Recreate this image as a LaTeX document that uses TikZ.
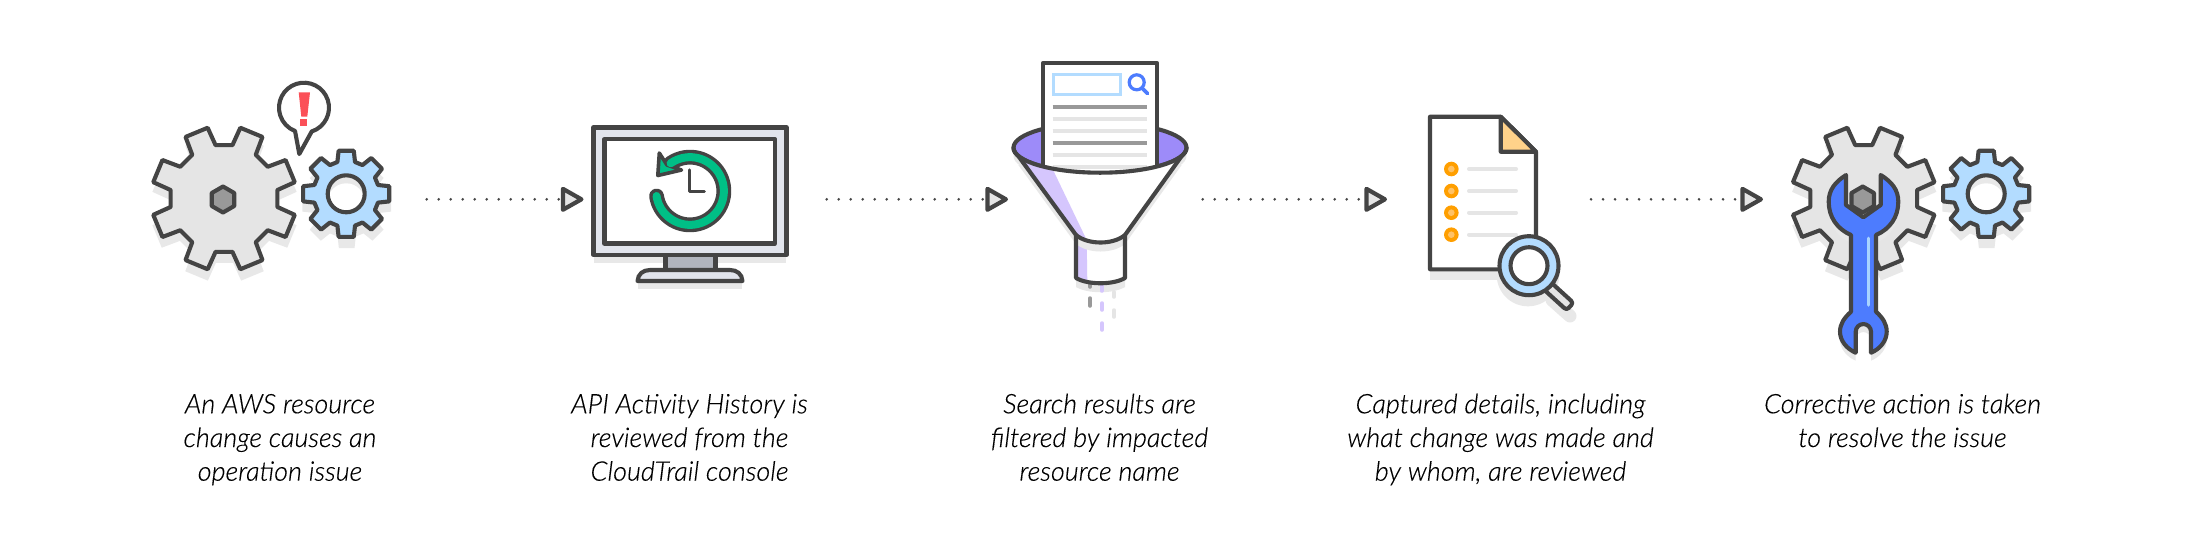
\documentclass[tikz,border=0pt]{standalone}
\usepackage{fontspec}
\usetikzlibrary{arrows.meta}
\setmainfont{Lato}[ItalicFont={Lato Light Italic},ItalicFeatures={FakeBold=0.25}]
\definecolor{ink}{HTML}{444444}
\definecolor{softsh}{HTML}{E8E8E8}
\definecolor{gearg}{HTML}{E5E5E5}
\definecolor{hexg}{HTML}{999999}
\definecolor{skyb}{HTML}{B3DCFF}
\definecolor{wrenchb}{HTML}{4D7CFE}
\definecolor{redx}{HTML}{FB5058}
\definecolor{greenh}{HTML}{00BF86}
\definecolor{scrn}{HTML}{E1E4EC}
\definecolor{standg}{HTML}{B1B5BE}
\definecolor{purp}{HTML}{9D8BF9}
\definecolor{lpurp}{HTML}{D5C6FD}
\definecolor{foldo}{HTML}{FFD28A}
\definecolor{oran}{HTML}{FF9F00}
\definecolor{loran}{HTML}{FFC266}
\definecolor{hilite}{HTML}{A8D4FF}
\tikzset{
 inkline/.style={draw=ink,line width=4.1pt,line join=round,line cap=round},
 flow/.style={draw=ink,line width=2.9pt,line cap=round,dash pattern=on 0pt off 12pt,
   -{Triangle[length=25pt,width=27pt,line width=4.2pt,fill=gearg,round]}},
 caption/.style={align=center,font=\itshape\fontsize{27}{33.7}\selectfont,text=black,inner sep=0pt,anchor=north},
}
% \gearpath{cx}{cy}{teeth}{offset}{R}{r}{tip half angle}{base half angle}
\newcommand{\gearpath}[8]{
 ([shift={(#1,#2)}]{#4-#8}:#6)
 foreach \ii in {0,...,\numexpr#3-1\relax}{
  -- ([shift={(#1,#2)}]{#4+\ii*360/#3-#8}:#6)
  -- ([shift={(#1,#2)}]{#4+\ii*360/#3-#7}:#5)
  -- ([shift={(#1,#2)}]{#4+\ii*360/#3+#7}:#5)
  -- ([shift={(#1,#2)}]{#4+\ii*360/#3+#8}:#6)
 } -- cycle
}
\newcommand{\biggear}[2]{
 \fill[softsh] \gearpath{#1+0.5}{#2+10}{8}{22.5}{74}{55}{9.5}{13.5};
 \path[inkline,fill=gearg] \gearpath{#1}{#2}{8}{22.5}{72.6}{54}{9.5}{13.5};
 \path[inkline,fill=hexg] ([shift={(#1-1,#2+1)}]30:13) -- ([shift={(#1-1,#2+1)}]90:13) -- ([shift={(#1-1,#2+1)}]150:13) -- ([shift={(#1-1,#2+1)}]210:13) -- ([shift={(#1-1,#2+1)}]270:13) -- ([shift={(#1-1,#2+1)}]330:13) -- cycle;
}
\newcommand{\smallgear}[2]{
 \fill[softsh] \gearpath{#1+0.5}{#2+10}{8}{0}{45}{34}{10}{15.5};
 \path[inkline,fill=skyb] \gearpath{#1}{#2}{8}{0}{43.7}{33}{10}{15.5};
 \begin{scope}
  \clip (#1,#2) circle (18.5);
  \fill[softsh] (#1,#2) circle (18.5);
  \fill[white] (#1,#2+8) circle (18.5);
 \end{scope}
 \draw[inkline] (#1,#2) circle (18.5);
}
\newcommand{\wrenchpath}{
 (1846,175) -- (1846,205) -- (1863.3,217.3) -- (1880.7,205) -- (1880.7,175)
 .. controls (1892,182) and (1898.3,190) .. (1898.3,201.7)
 .. controls (1898.3,217) and (1890,229) .. (1876,235)
 -- (1876,311.7)
 .. controls (1883,318) and (1886.7,324) .. (1886.7,331.7)
 .. controls (1886.7,341) and (1880,349) .. (1871,352.7)
 -- (1871,331.7) arc[start angle=0,end angle=-180,radius=7.65] -- (1855.7,352.7)
 .. controls (1847,349) and (1840,341) .. (1840,331.7)
 .. controls (1840,324) and (1844,318) .. (1851,311.7)
 -- (1851,235)
 .. controls (1837,229) and (1828.7,217) .. (1828.7,201.7)
 .. controls (1828.7,190) and (1835,182) .. (1846,175) -- cycle
}
\newcommand{\conepath}{
 (1018.3,156) -- (1076,235) -- (1076,278) .. controls (1088,285) and (1113,285) .. (1125,278) -- (1125,235) -- (1181.7,156)
}
\begin{document}
\begin{tikzpicture}[x=1pt,y=1pt,yscale=-1]
\useasboundingbox (0,0) rectangle (2200,550);
\fill[white] (0,0) rectangle (2200,550);

% ---- icon 1: gears and alert
\biggear{224}{198.5}
\smallgear{346.2}{193.8}
\path[inkline,fill=white] ([shift={(304,107.7)}]72:25) arc[start angle=72,end angle=-249,radius=25] -- (299.3,154) -- cycle;
\fill[redx] (298.7,92.3) -- (310,92.3) -- (307.3,116.7) -- (301.3,116.7) -- cycle;
\fill[redx] (300,119.3) rectangle (307.3,125.7);

% ---- icon 2: monitor
\fill[softsh] (594,255) rectangle (786,263);
\fill[softsh] (638,281) rectangle (742,289);
\path[inkline,fill=scrn] (593.5,127.5) rectangle (786.5,255);
\path[inkline,fill=white] (604.5,139) rectangle (775,243.5);
\path[inkline,fill=standg] (665.5,255) rectangle (715.5,270);
\path[inkline,fill=scrn] (637.5,281) .. controls (638,274) and (643,270) .. (650,270) -- (730,270) .. controls (737,270) and (742,274) .. (742.5,281) -- cycle;
\draw[ink,line width=14.8pt,line cap=round] ([shift={(690,191)}]171.5:33.85) arc[start angle=171.5,end angle=-125,radius=33.85];
\path[inkline,fill=greenh,line width=3.6pt] (659.3,153) -- (657.8,175.5) -- (681.5,170) -- (667,165) -- cycle;
\draw[greenh,line width=8pt,line cap=round] ([shift={(690,191)}]171.5:33.85) arc[start angle=171.5,end angle=-125,radius=33.85];
\draw[inkline,line width=3.3pt] (689.3,170) -- (689.3,191.7) -- (704.3,191.7);

% ---- icon 3: funnel
\fill[softsh] (1100,156) ellipse[x radius=86.5,y radius=25];
\fill[softsh,shift={(0,9)}] \conepath -- cycle;
\path[inkline,fill=purp] (1100,147.7) ellipse[x radius=86.5,y radius=25];
\path[inkline,fill=white] (1042.7,176) -- (1042.7,63.3) -- (1157.3,63.3) -- (1157.3,176);
\draw[skyb,line width=3pt] (1053.5,74) rectangle (1120,94);
\draw[wrenchb,line width=3.2pt] (1136.7,82.3) circle (7.5);
\draw[wrenchb,line width=3.6pt,line cap=round] (1142,88) -- (1147.5,93.5);
\draw[hexg,line width=4pt] (1052.5,107) -- (1146.5,107) (1052.5,143) -- (1146.5,143);
\draw[gearg,line width=4pt] (1052.5,119) -- (1146.5,119) (1052.5,131) -- (1146.5,131) (1052.5,155) -- (1146.5,155) (1052.5,167) -- (1146.5,167);
\draw[hexg,line width=3.5pt,line cap=round] (1090,283) -- (1090,287) (1090,298) -- (1090,306);
\draw[lpurp,line width=3.5pt,line cap=round] (1102,285) -- (1102,291) (1102,303) -- (1102,310) (1102,323) -- (1102,330);
\draw[gearg,line width=3.5pt,line cap=round] (1114,292) -- (1114,297) (1114,310) -- (1114,317);
\fill[white] \conepath -- (1180.7,156.6) arc[start angle=21,end angle=159,x radius=86.5,y radius=25] -- cycle;
\fill[lpurp] (1021.7,160) -- (1053.3,170.5) -- (1086.7,240) -- (1087.3,281) -- (1076,278) -- (1076,235) -- cycle;
\fill[softsh] (1076,235) .. controls (1088,245) and (1113,245) .. (1125,235) -- (1125,244) .. controls (1113,254) and (1088,254) .. (1076,244) -- cycle;
\draw[inkline] \conepath;
\draw[inkline] (1076,235) .. controls (1088,245) and (1113,245) .. (1125,235);
\draw[inkline] (1186.5,147.7) arc[start angle=0,end angle=180,x radius=86.5,y radius=25];

% ---- icon 4: document
\fill[softsh] (1430,270) rectangle (1510,279.5);
\fill[softsh] (1528,275) circle (31.3);
\draw[softsh,line width=13pt,line cap=round] (1552,300) -- (1570,316);
\path[inkline,fill=white] (1430,116.7) -- (1500.7,116.7) -- (1536,151.7) -- (1536,269.3) -- (1430,269.3) -- cycle;
\path[inkline,fill=foldo] (1500.7,116.7) -- (1500.7,151.7) -- (1536,151.7) -- cycle;
\foreach \yy in {169,191,212.7,234.7}{
 \fill[oran] (1451.3,\yy) circle (7.3);
 \fill[loran] (1451.3,\yy) circle (3.3);
 \draw[gearg,line width=4pt,line cap=round] (1469,\yy) -- (1516,\yy);
}
\path[inkline,fill=gearg,rounded corners=3pt] (1544.6,290.2) -- (1566.6,310.2) -- (1573.4,302.8) -- (1551.4,282.8) -- cycle;
\path[inkline,fill=skyb] (1529,265.7) circle (29.5);
\path[inkline,fill=white] (1529,265.7) circle (18.5);

% ---- icon 5: wrench
\biggear{1863.7}{198.5}
\smallgear{1986.2}{193.8}
\fill[softsh,shift={(0,8)}] \wrenchpath;
\path[inkline,fill=wrenchb] \wrenchpath;
\draw[hilite,line width=3.5pt,line cap=round] (1868.7,238.3) -- (1868.7,305);

% ---- connectors
\coordinate (s1) at (426.7,199.3); \coordinate (e1) at (583.5,199.3);
\coordinate (s2) at (826.7,199.3); \coordinate (e2) at (1008,199.3);
\coordinate (s3) at (1202.7,199.3); \coordinate (e3) at (1387,199.3);
\coordinate (s4) at (1591,199.3); \coordinate (e4) at (1763,199.3);
\draw[flow] (s1) -- (e1);
\draw[flow] (s2) -- (e2);
\draw[flow] (s3) -- (e3);
\draw[flow] (s4) -- (e4);

% ---- captions
\node[caption] (c1) at (280,389.5) {\strut An AWS resource\\change causes an\\operation issue};
\node[caption] (c2) at (689.5,389.5) {\strut API Activity History is\\reviewed from the\\CloudTrail console};
\node[caption] (c3) at (1099.5,389.5) {\strut Search results are\\filtered by impacted\\resource name};
\node[caption] (c4) at (1500.5,389.5) {\strut Captured details, including\\what change was made and\\by whom, are reviewed};
\node[caption] (c5) at (1902.5,389.5) {\strut Corrective action is taken\\to resolve the issue};
\end{tikzpicture}
\end{document}
